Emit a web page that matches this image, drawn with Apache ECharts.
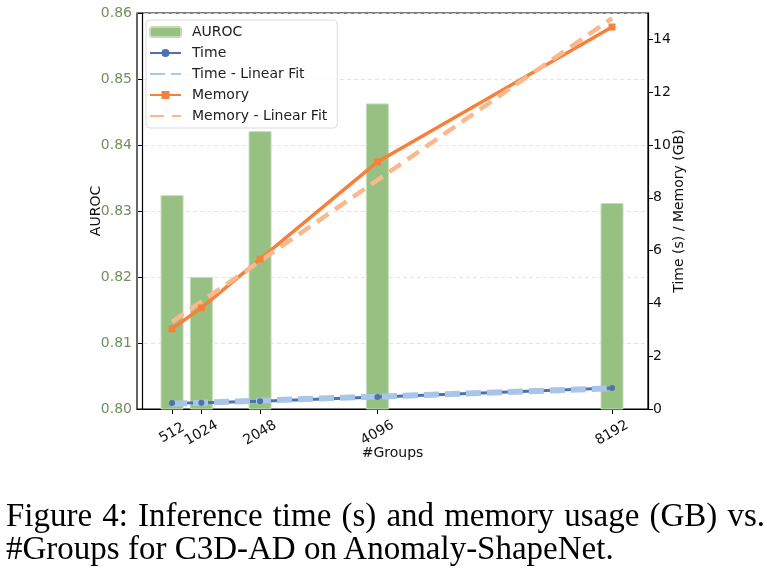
<!DOCTYPE html>
<html>
<head>
<meta charset="utf-8">
<script src="https://cdn.jsdelivr.net/npm/echarts@6/dist/echarts.min.js"></script>
<style>
  html, body { margin: 0; padding: 0; background: #fff; }
  #chart { width: 767px; height: 569px; }
  #caption {
    position: absolute; left: 6px; top: 499px; width: 759px;
    font-family: "Liberation Serif", serif; font-size: 33px; line-height: 33px;
    color: #000; text-align: justify; white-space: normal;
  }
</style>
</head>
<body>
<div id="chart"></div>
<div id="caption">Figure 4: Inference time (s) and memory usage (GB) vs. #Groups for C3D-AD on Anomaly-ShapeNet.</div>
<script>
// values
var groups = [512, 1024, 2048, 4096, 8192];
var auroc = [0.8324, 0.8200, 0.8421, 0.8463, 0.8312];
var timeSec = [0.23, 0.24, 0.29, 0.45, 0.80];
var memoryGB = [3.04, 3.83, 5.68, 9.36, 14.47];
// linear fits, only the two end points (straight lines)
var fitX = [512, 8192];
var timeFit = [0.20, 0.78];
var memoryFit = [3.30, 14.80];
var rightTicks = [0, 2, 4, 6, 8, 10, 12, 14];

function pairs(xs, ys) {
  return xs.map(function (x, i) { return [x, ys[i]]; });
}

var chart = echarts.init(document.getElementById('chart'));
var font = 'DejaVu Sans';

var option = {
  animation: false,
  textStyle: { fontFamily: font },
  grid: {
    left: 137, right: 119, top: 13, bottom: 160,
    show: true, borderColor: '#000', borderWidth: 1.2, containLabel: false
  },
  legend: {
    orient: 'vertical',
    left: 146, top: 20,
    padding: [5, 10, 5, 3],
    itemWidth: 31, itemHeight: 10, itemGap: 7,
    borderColor: '#dcdcdc', borderWidth: 1, borderRadius: 4,
    backgroundColor: 'rgba(255,255,255,0.8)',
    textStyle: { fontFamily: font, fontSize: 14, color: '#222', padding: [0, 0, 0, 6] },
    data: [
      'AUROC', 'Time',
      { name: 'Time - Linear Fit', itemStyle: { opacity: 0 } },
      'Memory',
      { name: 'Memory - Linear Fit', itemStyle: { opacity: 0 } }
    ]
  },
  xAxis: {
    type: 'value',
    min: -100, max: 8820,
    name: '#Groups', nameLocation: 'middle', nameGap: 37, nameMoveOverlap: false,
    nameTextStyle: { fontFamily: font, fontSize: 14, color: '#111' },
    axisLine: { lineStyle: { color: '#000', width: 1.2 } },
    axisTick: { show: true, length: 5, customValues: groups, lineStyle: { color: '#000' } },
    axisLabel: {
      customValues: groups, rotate: 30, margin: 24,
      align: 'center', verticalAlign: 'middle',
      fontFamily: font, fontSize: 14, color: '#111',
      formatter: function (v) { return String(v); }
    },
    splitLine: { show: false }
  },
  yAxis: [
    {
      type: 'value', min: 0.80, max: 0.86, interval: 0.01,
      name: 'AUROC', nameLocation: 'middle', nameGap: 34, nameMoveOverlap: false,
      nameTextStyle: { fontFamily: font, fontSize: 14, color: '#111' },
      axisLine: { show: true, lineStyle: { color: '#000', width: 1.2 } },
      axisTick: { show: true, length: 5, lineStyle: { color: '#000' } },
      axisLabel: {
        fontFamily: font, fontSize: 14, color: '#6f8f5e', margin: 5,
        formatter: function (v) { return v.toFixed(2); }
      },
      splitLine: { show: true, lineStyle: { color: '#dedede', type: [4, 3], width: 0.8 } }
    },
    {
      type: 'value', min: 0, max: 15, position: 'right',
      name: 'Time (s) / Memory (GB)', nameLocation: 'middle', nameGap: 24, nameMoveOverlap: false,
      nameTextStyle: { fontFamily: font, fontSize: 14, color: '#111' },
      axisLine: { show: true, lineStyle: { color: '#000', width: 1.2 } },
      axisTick: { show: true, length: 5, customValues: rightTicks, lineStyle: { color: '#000' } },
      axisLabel: { customValues: rightTicks, fontFamily: font, fontSize: 14, color: '#111', margin: 5 },
      splitLine: { show: false }
    }
  ],
  series: [
    {
      name: 'AUROC', type: 'bar', yAxisIndex: 0,
      barWidth: 23,
      itemStyle: { color: '#96c183', borderColor: '#c3dcb6', borderWidth: 1 },
      data: pairs(groups, auroc)
    },
    {
      name: 'Time', type: 'line', yAxisIndex: 1,
      symbol: 'circle', symbolSize: 6,
      lineStyle: { color: '#4c72b0', width: 3 },
      itemStyle: { color: '#4c72b0' },
      data: pairs(groups, timeSec)
    },
    {
      name: 'Time - Linear Fit', type: 'line', yAxisIndex: 1,
      symbol: 'none',
      lineStyle: { color: '#a9c5e7', width: 6, type: [15, 6] },
      itemStyle: { color: '#a9c5e7' },
      data: pairs(fitX, timeFit)
    },
    {
      name: 'Memory', type: 'line', yAxisIndex: 1,
      symbol: 'rect', symbolSize: 7,
      lineStyle: { color: '#f4823c', width: 3.5 },
      itemStyle: { color: '#f4823c' },
      data: pairs(groups, memoryGB)
    },
    {
      name: 'Memory - Linear Fit', type: 'line', yAxisIndex: 1,
      symbol: 'none',
      lineStyle: { color: '#fbb88c', width: 4.5, type: [14, 8] },
      itemStyle: { color: '#fbb88c' },
      data: pairs(fitX, memoryFit)
    }
  ]
};

chart.setOption(option);
</script>
</body>
</html>
